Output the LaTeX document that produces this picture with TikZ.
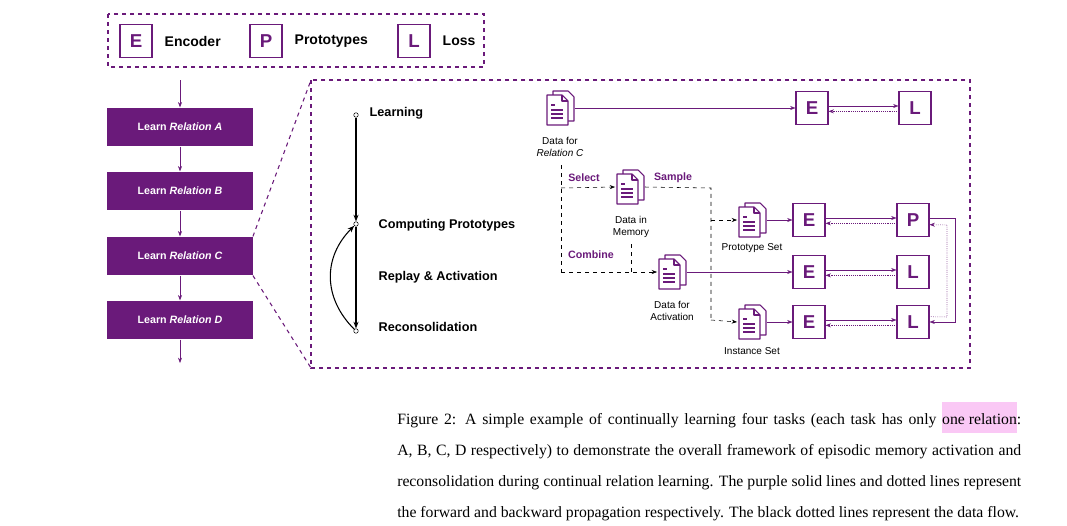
\documentclass[tikz,border=0pt]{standalone}
\usepackage{fontspec}
\setmainfont{Liberation Serif}
\newfontfamily\diagfont{Liberation Sans}
\usetikzlibrary{arrows.meta,positioning}
\definecolor{relpurple}{RGB}{106,26,122}
\definecolor{hlpink}{RGB}{250,200,245}
\tikzset{
  letter/.style={draw=relpurple, thick, fill=white, text=relpurple, font=\diagfont\bfseries\fontsize{14}{14}\selectfont, minimum width=24pt, minimum height=25pt, inner sep=0pt},
  task/.style={fill=relpurple, text=white, font=\diagfont\bfseries\fontsize{8}{8}\selectfont, minimum width=109pt, minimum height=29pt, inner sep=0pt},
  doc/.style={minimum width=22pt, minimum height=24pt, inner sep=0pt},
  lab/.style={font=\diagfont\fontsize{7.5}{9}\selectfont, align=center},
  stage/.style={font=\diagfont\bfseries\fontsize{9.5}{10}\selectfont, anchor=west},
  stagedot/.style={circle, draw, fill=white, inner sep=1.2pt},
  fwd/.style={relpurple, -{Stealth[length=4pt]}},
  bwd/.style={relpurple, densely dotted, -{Stealth[length=4pt]}},
  flow/.style={dashed, -{Stealth[length=4pt]}},
  frame/.style={relpurple, dashed, thick}
}
% document icon drawn round a point
\newcommand\docicon[1]{%
  \begin{scope}[shift={(#1)}, relpurple, thick, line join=round]
    \draw[fill=white] (-7,-17) -- (8,-17) -- (14,-11) -- (14,13) -- (-7,13) -- cycle;
    \draw[fill=white] (-13,-13) -- (2,-13) -- (8,-7) -- (8,17) -- (-13,17) -- cycle;
    \draw (2,-13) -- (2,-7) -- (8,-7);
    \draw (-9,-3) -- (-5,-3) (-9,2) -- (3,2) (-9,6) -- (3,6) (-9,10) -- (3,10);
  \end{scope}}
\begin{document}
\begin{tikzpicture}[x=0.75pt, y=-0.75pt, font=\diagfont]
\useasboundingbox (0,0) rectangle (1067,525);

% legend
\draw[frame] (108,14) rectangle (484,67);
\node[letter] (legE) at (136,41) {E};
\node[font=\diagfont\bfseries\fontsize{10.5}{10}\selectfont, anchor=west] at (160,41) {Encoder};
\node[letter] (legP) at (266,41) {P};
\node[font=\diagfont\bfseries\fontsize{10.5}{10}\selectfont, anchor=west] at (290,41) {Prototypes};
\node[letter] (legL) at (414,41) {L};
\node[font=\diagfont\bfseries\fontsize{10.5}{10}\selectfont, anchor=west] at (438,41) {Loss};

% tasks
\coordinate (start) at (180,80);
\node[task] (tA) at (180,127) {Learn \textit{Relation A}};
\node[task] (tB) at (180,191) {Learn \textit{Relation B}};
\node[task] (tC) at (180,256) {Learn \textit{Relation C}};
\node[task] (tD) at (180,320) {Learn \textit{Relation D}};
\coordinate (stop) at (180,363);
\draw[fwd] (start) -- (tA);
\draw[fwd] (tA) -- (tB);
\draw[fwd] (tB) -- (tC);
\draw[fwd] (tC) -- (tD);
\draw[fwd] (tD) -- (stop);

% zoomed frame
\draw[frame] (311,80) rectangle (970,368);
\draw[frame] (tC.north east) -- (311,80);
\draw[frame] (tC.south east) -- (311,368);

% stages
\node[stagedot] (sLearn) at (356,115) {};
\node[stagedot] (sProto) at (356,224) {};
\node[stagedot] (sRecon) at (356,331) {};
\node[stage] at (365,113) {Learning};
\node[stage] at (374,225) {Computing Prototypes};
\node[stage] at (374,277) {Replay \& Activation};
\node[stage] at (374,327) {Reconsolidation};
\draw[thick, -{Stealth[length=5pt]}] (sLearn) -- (sProto);
\draw[thick, -{Stealth[length=5pt]}] (sProto) -- (sRecon);
\draw[thick, -{Stealth[length=5pt]}] (sRecon) to[out=135, in=225, looseness=1.1] (sProto);

% documents
\node[doc] (dRel) at (560,108) {};
\node[doc] (dMem) at (630,187) {};
\node[doc] (dAct) at (672,272) {};
\node[doc] (dPro) at (752,220) {};
\node[doc] (dIns) at (752,322) {};
\foreach \d in {dRel,dMem,dAct,dPro,dIns} {\docicon{\d}}
\node[lab] at (560,147) {Data for\\\textit{Relation C}};
\node[lab] at (631,227) {Data in\\Memory};
\node[lab] at (672,311) {Data for\\Activation};
\node[lab] at (752,248) {Prototype Set};
\node[lab] at (752,351) {Instance Set};
\node[relpurple, font=\diagfont\bfseries\fontsize{8}{8}\selectfont] at (584,178) {Select};
\node[relpurple, font=\diagfont\bfseries\fontsize{8}{8}\selectfont] at (673,178) {Sample};
\node[relpurple, font=\diagfont\bfseries\fontsize{8}{8}\selectfont] at (591,255) {Combine};

% encoders, prototypes, losses
\node[letter] (e0) at (812,108) {E};
\node[letter] (l0) at (915,108) {L};
\node[letter] (e1) at (809,220) {E};
\node[letter] (p1) at (913,220) {P};
\node[letter] (e2) at (809,272) {E};
\node[letter] (l2) at (913,272) {L};
\node[letter] (e3) at (809,322) {E};
\node[letter] (l3) at (913,322) {L};

% data flow
\draw[dashed] (561,165) -- (561,272);
\draw[flow] (561,188) -- (dMem.west);
\draw[flow] (561,272) -- (dAct.west);
\draw[dashed] (631,244) -- (631,272);
\draw[dashed] (dMem.east) -- (711,188) -- (711,320);
\draw[flow] (711,220) -- (dPro.west);
\draw[flow] (711,320) -- (dIns.west);

% forward and backward
\draw[fwd] (dRel.east) -- (e0.west);
\draw[fwd] ([yshift=1.5pt]e0.east) -- ([yshift=1.5pt]l0.west);
\draw[bwd] ([yshift=-2.5pt]l0.west) -- ([yshift=-2.5pt]e0.east);
\draw[fwd] (dPro.east) -- (e1.west);
\draw[fwd] ([yshift=1.5pt]e1.east) -- ([yshift=1.5pt]p1.west);
\draw[bwd] ([yshift=-2.5pt]p1.west) -- ([yshift=-2.5pt]e1.east);
\draw[fwd] (dAct.east) -- (e2.west);
\draw[fwd] ([yshift=1.5pt]e2.east) -- ([yshift=1.5pt]l2.west);
\draw[bwd] ([yshift=-2.5pt]l2.west) -- ([yshift=-2.5pt]e2.east);
\draw[fwd] (dIns.east) -- (e3.west);
\draw[fwd] ([yshift=1.5pt]e3.east) -- ([yshift=1.5pt]l3.west);
\draw[bwd] ([yshift=-2.5pt]l3.west) -- ([yshift=-2.5pt]e3.east);
\draw[fwd] ([yshift=1.5pt]p1.east) -- (955,218) -- (955,322) -- (l3.east);
\draw[bwd] ([yshift=4pt]l3.east) -- (947,317) -- (947,225) -- ([yshift=-3.5pt]p1.east);

% caption
\node[anchor=north west, text width=468pt, align=justify, inner sep=0pt,
  font=\fontsize{11.8}{23.3}\selectfont] (cap) at (397,402)
  {Figure 2: A simple example of continually learning four tasks (each task has only {\fboxsep=0pt\colorbox{hlpink}{\strut one relation}}: A, B, C, D respectively) to demonstrate the overall framework of episodic memory activation and reconsolidation during continual relation learning. The purple solid lines and dotted lines represent the forward and backward propagation respectively. The black dotted lines represent the data flow.};
\end{tikzpicture}
\end{document}
